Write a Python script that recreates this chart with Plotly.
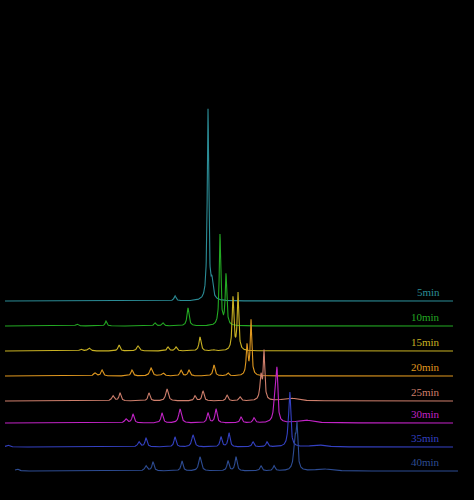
import numpy as np
import plotly.graph_objects as go

labels = ["5min", "10min", "15min", "20min", "25min", "30min", "35min", "40min"]
colors = ["#2b8c96", "#23a923", "#c9b223", "#e0981f", "#cf7f6c", "#c223c6", "#3441c2", "#2d4c93"]
baselines = [301, 326, 351, 376, 401, 423, 447, 471]
x_start = [5, 5, 5, 5, 5, 5, 5, 15]
x_end = [453, 453, 453, 453, 453, 453, 453, 458]

# peaks per trace: (position, height, half-width)
peaks = [
    [(175, 5, 1.2), (208, 191, 0.9), (212, 16, 1.2)],
    [(77, 2, 1.5), (106, 5, 1.0), (155, 3, 1.2), (163, 3, 1.2), (188, 18, 1.2), (220, 91, 0.9), (226, 51, 0.9)],
    [(81, 2, 1.5), (89, 3, 1.5), (119, 6, 1.2), (138, 5, 1.5), (168, 4, 1.2), (176, 4, 1.2),
     (200, 14, 1.2), (214, 1, 1.5), (233, 53, 1.0), (238, 57, 0.9)],
    [(95, 3, 1.5), (102, 6, 1.2), (132, 6, 1.2), (151, 8, 1.5), (163, 3, 1.5), (181, 6, 1.2),
     (189, 6, 1.2), (214, 11, 1.2), (228, 3, 1.2), (247, 30, 1.0), (251, 55, 0.9)],
    [(113, 5, 1.5), (120, 8, 1.2), (149, 8, 1.2), (167, 12, 1.5), (195, 5, 1.2), (203, 10, 1.2),
     (227, 6, 1.2), (240, 4, 1.2), (261, 24, 1.2), (264, 48, 0.9), (290, 3, 8.0)],
    [(126, 4, 1.5), (133, 9, 1.2), (162, 10, 1.2), (180, 14, 1.5), (208, 10, 1.2), (216, 14, 1.2),
     (241, 6, 1.2), (254, 5, 1.2), (275, 25, 1.5), (277, 47, 0.9), (305, 3, 8.0)],
    [(8, 2, 2.0), (139, 5, 1.5), (146, 9, 1.2), (175, 10, 1.2), (193, 12, 1.5), (221, 10, 1.2),
     (229, 14, 1.2), (253, 5, 1.2), (267, 5, 1.2), (289, 22, 1.5), (290, 39, 0.9), (318, 2, 8.0)],
    [(17, 2, 2.0), (146, 5, 1.5), (153, 9, 1.2), (182, 10, 1.2), (200, 14, 1.5), (228, 10, 1.2),
     (236, 14, 1.2), (261, 5, 1.2), (274, 5, 1.2), (295, 30, 1.5), (297, 39, 0.9), (323, 2, 8.0)],
]

fig = go.Figure()
for name, col, base, xs, xe, pk in zip(labels, colors, baselines, x_start, x_end, peaks):
    x = np.linspace(xs, xe, 3000)
    sig = np.zeros_like(x)
    for p, h, w in pk:
        sig += h / (1 + ((x - p) / w) ** 2)
    fig.add_trace(go.Scatter(x=x, y=base - sig, mode="lines", line=dict(color=col, width=1.1),
                             hoverinfo="skip", showlegend=False))
    fig.add_annotation(x=442, y=base - 9, text=name, showarrow=False, xanchor="right",
                       yanchor="middle", font=dict(family="Liberation Serif", size=11, color=col))

fig.update_layout(
    width=474, height=500, margin=dict(l=0, r=0, t=0, b=0),
    paper_bgcolor="black", plot_bgcolor="black",
    xaxis=dict(range=[0, 474], visible=False),
    yaxis=dict(range=[500, 0], visible=False),
)
fig.write_html("out.html", config={"displayModeBar": False},
               post_script="document.body.style.margin='0';document.body.style.background='black';")
